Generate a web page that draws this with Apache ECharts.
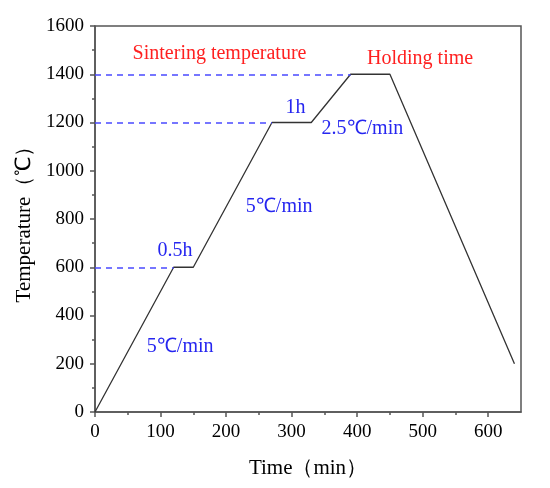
<!DOCTYPE html>
<html>
<head>
<meta charset="utf-8">
<script src="https://cdn.jsdelivr.net/npm/echarts@6/dist/echarts.min.js"></script>
<style>html,body{margin:0;padding:0;background:#fff}#c{width:550px;height:488px}</style>
</head>
<body>
<div id="c"></div>
<script>
// profile data: time (min), temperature (°C)
const timeVals = [0, 120, 150, 270, 330, 390, 450, 640];
const tempVals = [0, 600, 600, 1200, 1200, 1400, 1400, 200];
// dashed reference lines: [temperature, time where it meets the profile]
const refLines = [[1400, 390], [1200, 270], [600, 120]];
// tick values
const xTickLabels = [0, 100, 200, 300, 400, 500, 600];
const xMinorTicks = [50, 150, 250, 350, 450, 550];
// annotations [text, x, y]
const redNotes = [['Sintering temperature', 190, 1484], ['Holding time', 496, 1465]];
const blueNotes = [['1h', 306, 1262], ['2.5℃/min', 408, 1175], ['5℃/min', 281, 850], ['0.5h', 122, 668], ['5℃/min', 130, 272]];

const FONT = 'Liberation Serif';
const chart = echarts.init(document.getElementById('c'));
const lineData = timeVals.map((t, i) => [t, tempVals[i]]);

function noteSeries(list, color) {
  return {
    type: 'scatter', xAxisIndex: 0, yAxisIndex: 0,
    symbolSize: 1, itemStyle: {color: 'rgba(0,0,0,0)', opacity: 1},
    silent: true, z: 5,
    data: list.map(n => ({value: [n[1], n[2]], name: n[0]})),
    label: {show: true, position: 'inside', formatter: p => p.name, opacity: 1,
      color: color, fontFamily: FONT, fontSize: 20}
  };
}

chart.setOption({
  animation: false,
  backgroundColor: '#fff',
  grid: {left: 95, right: 29, top: 26, bottom: 76, show: true, borderColor: '#555', borderWidth: 1.5},
  xAxis: [{
    type: 'value', min: 0, max: 650, interval: 100,
    name: 'Time（min）', nameLocation: 'middle', nameGap: 46,
    nameTextStyle: {fontFamily: FONT, fontSize: 21, color: '#000'},
    axisLine: {show: true, lineStyle: {color: '#555', width: 1.5}},
    axisTick: {show: true, length: 5, customValues: xTickLabels, lineStyle: {color: '#555', width: 1.5}},
    axisLabel: {customValues: xTickLabels, fontFamily: FONT, fontSize: 19, color: '#000', margin: 11},
    splitLine: {show: false}
  }, {
    type: 'value', min: 0, max: 650, position: 'bottom',
    axisLine: {show: false},
    axisTick: {show: true, length: 3, customValues: xMinorTicks, lineStyle: {color: '#555', width: 1.5}},
    axisLabel: {show: false},
    splitLine: {show: false}
  }],
  yAxis: {
    type: 'value', min: 0, max: 1600, interval: 200,
    name: 'Temperature（℃）', nameLocation: 'middle', nameGap: 49,
    nameTextStyle: {fontFamily: FONT, fontSize: 21, color: '#000'},
    axisLine: {show: true, lineStyle: {color: '#555', width: 1.5}},
    axisTick: {show: true, length: 5, lineStyle: {color: '#555', width: 1.5}},
    minorTick: {show: true, splitNumber: 2, length: 3, lineStyle: {color: '#555', width: 1.5}},
    axisLabel: {fontFamily: FONT, fontSize: 19, color: '#000', margin: 11, formatter: v => String(v)},
    splitLine: {show: false}, minorSplitLine: {show: false}
  },
  series: [{
    type: 'line', xAxisIndex: 0, data: lineData, symbol: 'none',
    lineStyle: {color: '#333', width: 1.3}, z: 3,
    markLine: {
      silent: true, symbol: 'none', label: {show: false},
      lineStyle: {color: '#4a4aff', type: [6, 5], width: 1.5},
      data: refLines.map(r => [{coord: [0, r[0]]}, {coord: [r[1], r[0]]}])
    }
  },
  noteSeries(redNotes, '#ff2020'),
  noteSeries(blueNotes, '#2626f0')]
});
</script>
</body>
</html>
